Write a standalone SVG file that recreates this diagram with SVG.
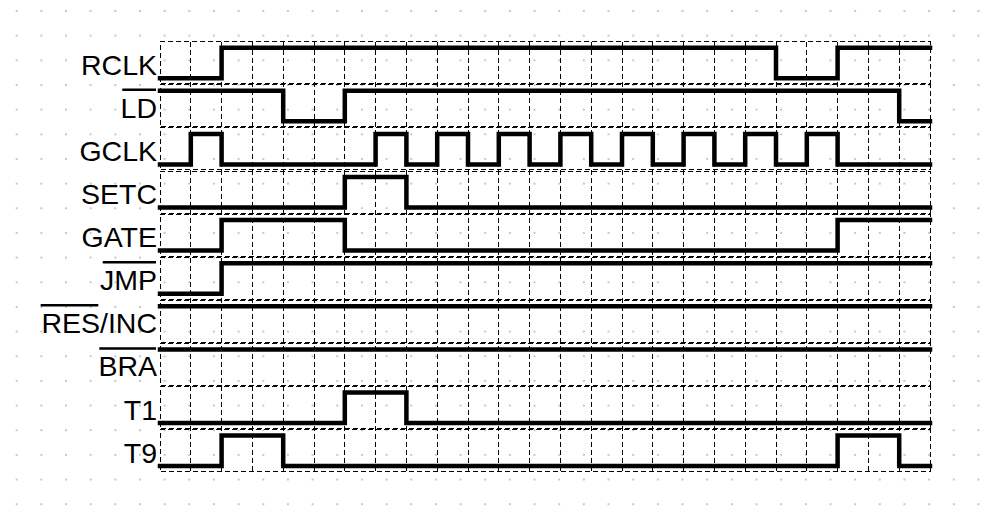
<svg xmlns="http://www.w3.org/2000/svg" width="998" height="508" viewBox="0 0 998 508">
<defs>
<pattern id="dots" patternUnits="userSpaceOnUse" x="15.7" y="10" width="24.66" height="24.66">
<rect x="0" y="0" width="2" height="2" fill="#c8c8c8"/>
</pattern>
</defs>
<style>
.box{fill:none;stroke:#000;stroke-width:1;stroke-dasharray:5 3;shape-rendering:crispEdges;}
.vl{stroke:#000;stroke-width:1;stroke-dasharray:5 3;shape-rendering:crispEdges;}
.wave{fill:none;stroke:#000;stroke-width:4.5;stroke-linecap:square;stroke-linejoin:miter;}
.lbl{font-family:"Liberation Sans",Arial,sans-serif;font-size:28.5px;fill:#000;text-anchor:end;}
.bar{stroke:#000;stroke-width:2.5;}
</style>
<rect width="998" height="508" fill="#fff"/>
<rect width="998" height="508" fill="url(#dots)"/>
<g id="grid">
<path class="vl" d="M190.8,41.7V471.8M221.6,41.7V471.8M252.4,41.7V471.8M283.2,41.7V471.8M314,41.7V471.8M344.8,41.7V471.8M375.6,41.7V471.8M406.4,41.7V471.8M437.2,41.7V471.8M468,41.7V471.8M498.8,41.7V471.8M529.6,41.7V471.8M560.4,41.7V471.8M591.2,41.7V471.8M622,41.7V471.8M652.8,41.7V471.8M683.6,41.7V471.8M714.4,41.7V471.8M745.2,41.7V471.8M776,41.7V471.8M806.8,41.7V471.8M837.6,41.7V471.8M868.4,41.7V471.8M899.2,41.7V471.8"/>
</g>
<g id="sig-rclk" transform="translate(0,41.7)">
<rect class="box" x="160" y="0" width="770" height="42"/>
<text class="lbl" x="157" y="33">RCLK</text>
<path class="wave" d="M160,36.5H221.6V6H776V36.5H837.6V6H930"/>
</g>
<g id="sig-ld" transform="translate(0,84.8)">
<rect class="box" x="160" y="0" width="770" height="42"/>
<text class="lbl" x="157" y="33">LD</text>
<line class="bar" x1="122.3" y1="5" x2="156" y2="5"/>
<path class="wave" d="M160,6H283.2V36.5H344.8V6H899.2V36.5H930"/>
</g>
<g id="sig-gclk" transform="translate(0,127.9)">
<rect class="box" x="160" y="0" width="770" height="42"/>
<text class="lbl" x="157" y="33">GCLK</text>
<path class="wave" d="M160,36.5H190.8V6H221.6V36.5H375.6V6H406.4V36.5H437.2V6H468V36.5H498.8V6H529.6V36.5H560.4V6H591.2V36.5H622V6H652.8V36.5H683.6V6H714.4V36.5H745.2V6H776V36.5H806.8V6H837.6V36.5H930"/>
</g>
<g id="sig-setc" transform="translate(0,171)">
<rect class="box" x="160" y="0" width="770" height="42"/>
<text class="lbl" x="157" y="33">SETC</text>
<path class="wave" d="M160,36.5H344.8V6H406.4V36.5H930"/>
</g>
<g id="sig-gate" transform="translate(0,214.1)">
<rect class="box" x="160" y="0" width="770" height="42"/>
<text class="lbl" x="157" y="33">GATE</text>
<path class="wave" d="M160,36.5H221.6V6H344.8V36.5H837.6V6H930"/>
</g>
<g id="sig-jmp" transform="translate(0,257.2)">
<rect class="box" x="160" y="0" width="770" height="42"/>
<text class="lbl" x="157" y="33">JMP</text>
<line class="bar" x1="102.7" y1="5" x2="156" y2="5"/>
<path class="wave" d="M160,36.5H221.6V6H930"/>
</g>
<g id="sig-resinc" transform="translate(0,300.3)">
<rect class="box" x="160" y="0" width="770" height="42"/>
<text class="lbl" x="157" y="33">RES/INC</text>
<line class="bar" x1="40.7" y1="5" x2="98.3" y2="5"/>
<path class="wave" d="M160,6H930"/>
</g>
<g id="sig-bra" transform="translate(0,343.4)">
<rect class="box" x="160" y="0" width="770" height="42"/>
<text class="lbl" x="157" y="33">BRA</text>
<line class="bar" x1="99.3" y1="5" x2="156" y2="5"/>
<path class="wave" d="M160,6H930"/>
</g>
<g id="sig-t1" transform="translate(0,386.5)">
<rect class="box" x="160" y="0" width="770" height="42"/>
<text class="lbl" x="157" y="33">T1</text>
<path class="wave" d="M160,36.5H344.8V6H406.4V36.5H930"/>
</g>
<g id="sig-t9" transform="translate(0,429.6)">
<rect class="box" x="160" y="0" width="770" height="42"/>
<text class="lbl" x="157" y="33">T9</text>
<path class="wave" d="M160,36.5H221.6V6H283.2V36.5H837.6V6H899.2V36.5H930"/>
</g>
</svg>
